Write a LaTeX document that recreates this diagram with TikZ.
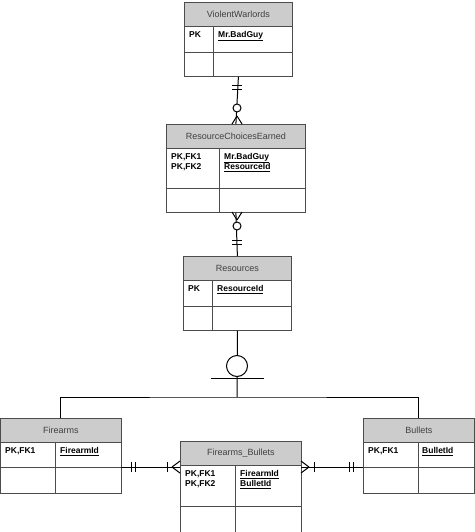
\documentclass[tikz,border=0pt]{standalone}
\usepackage{fontspec}
\setmainfont{Liberation Sans}
\begin{document}
\begin{tikzpicture}[x=1pt,y=-1pt,
  hdr/.style={draw=black!70,fill=black!20,line width=0.8pt,inner sep=0,anchor=north west,font=\fontsize{9}{10}\selectfont,text=black!75},
  box/.style={draw=black!70,line width=0.8pt,inner sep=0,anchor=north west},
  k/.style={font=\bfseries\fontsize{8.5}{10.5}\selectfont,align=left,anchor=north west,inner sep=0},
  conn/.style={line width=1pt,black}]
\useasboundingbox (0,0) rectangle (474,532);
% table macro-ish: header, body
\newcommand{\ertable}[9]{% name, x1, x2, ytop, yrow, ymid, ybot, xdiv, title
  \node[hdr,minimum width=#3-#2,minimum height=24] (#1h) at (#2,#4) {#9};
  \node[box,minimum width=#3-#2,minimum height=#7-#4-24] (#1) at (#2,#4+24) {};
  \draw[black!70,line width=0.8pt] (#2,#6) -- (#3,#6) (#8,#4+24) -- (#8,#7);
}
\ertable{vw}{184}{292}{2}{26}{52}{76}{213}{ViolentWarlords}
\node[k] (vwk) at (189,31) {PK};
\node[k] (vwv) at (218,31) {\underline{Mr.BadGuy}};
\ertable{rce}{166}{305}{124}{148}{188}{212}{219}{ResourceChoicesEarned}
\node[k] (rcek) at (171,153) {PK,FK1\\PK,FK2};
\node[k] (rcev) at (224,153) {\underline{Mr.BadGuy}\\\underline{ResourceId}};
\ertable{res}{183}{291}{256}{280}{306}{330}{212}{Resources}
\node[k] (resk) at (188,285) {PK};
\node[k] (resv) at (217,285) {\underline{ResourceId}};
\ertable{fa}{0}{121}{418}{442}{467}{493}{55}{Firearms}
\node[k] (fak) at (5,447) {PK,FK1};
\node[k] (fav) at (60,447) {\underline{FirearmId}};
\ertable{bu}{363}{474}{418}{442}{467}{493}{418}{Bullets}
\node[k] (buk) at (368,447) {PK,FK1};
\node[k] (buv) at (422,447) {\underline{BulletId}};
\ertable{fb}{180}{301}{441}{465}{506}{540}{235}{Firearms\_Bullets}
\node[k] (fbk) at (185,470) {PK,FK1\\PK,FK2};
\node[k] (fbv) at (240,470) {\underline{FirearmId}\\\underline{BulletId}};
% VW - RCE
\draw[conn] (vw.south) -- (rceh.north);
\draw[conn] (232,86)--(242,86) (232,90)--(242,90);
\draw[conn,fill=white] (237,108) circle (4);
\draw[conn] (237,116)--(232,124) (237,116)--(242,124);
% RCE - Resources
\draw[conn] (rce.south) -- (resh.north);
\draw[conn] (237,220)--(232,212) (237,220)--(242,212);
\draw[conn,fill=white] (237,226) circle (4);
\draw[conn] (232,240)--(242,240) (232,244)--(242,244);
% subtype
\coordinate (j) at (237,397);
\draw[conn] (res.south) -- (j);
\draw[conn,fill=white] (237,366) circle (10.5);
\draw[conn] (211,378)--(264,378);
\draw[conn] (fah.north) |- (j) -| (buh.north);
% Firearms - FB
\coordinate (fae) at (121,467);
\coordinate (fbw) at (180,467);
\draw[conn] (fae) -- (fbw);
\draw[conn] (131,462)--(131,472) (135,462)--(135,472) (167,462)--(167,472);
\draw[conn] (172,467)--(180,461) (172,467)--(180,473);
\coordinate (fbe) at (301,467);
\coordinate (buw) at (363,467);
\draw[conn] (fbe) -- (buw);
\draw[conn] (349,462)--(349,472) (353,462)--(353,472) (314,462)--(314,472);
\draw[conn] (309,467)--(301,461) (309,467)--(301,473);
\end{tikzpicture}
\end{document}
